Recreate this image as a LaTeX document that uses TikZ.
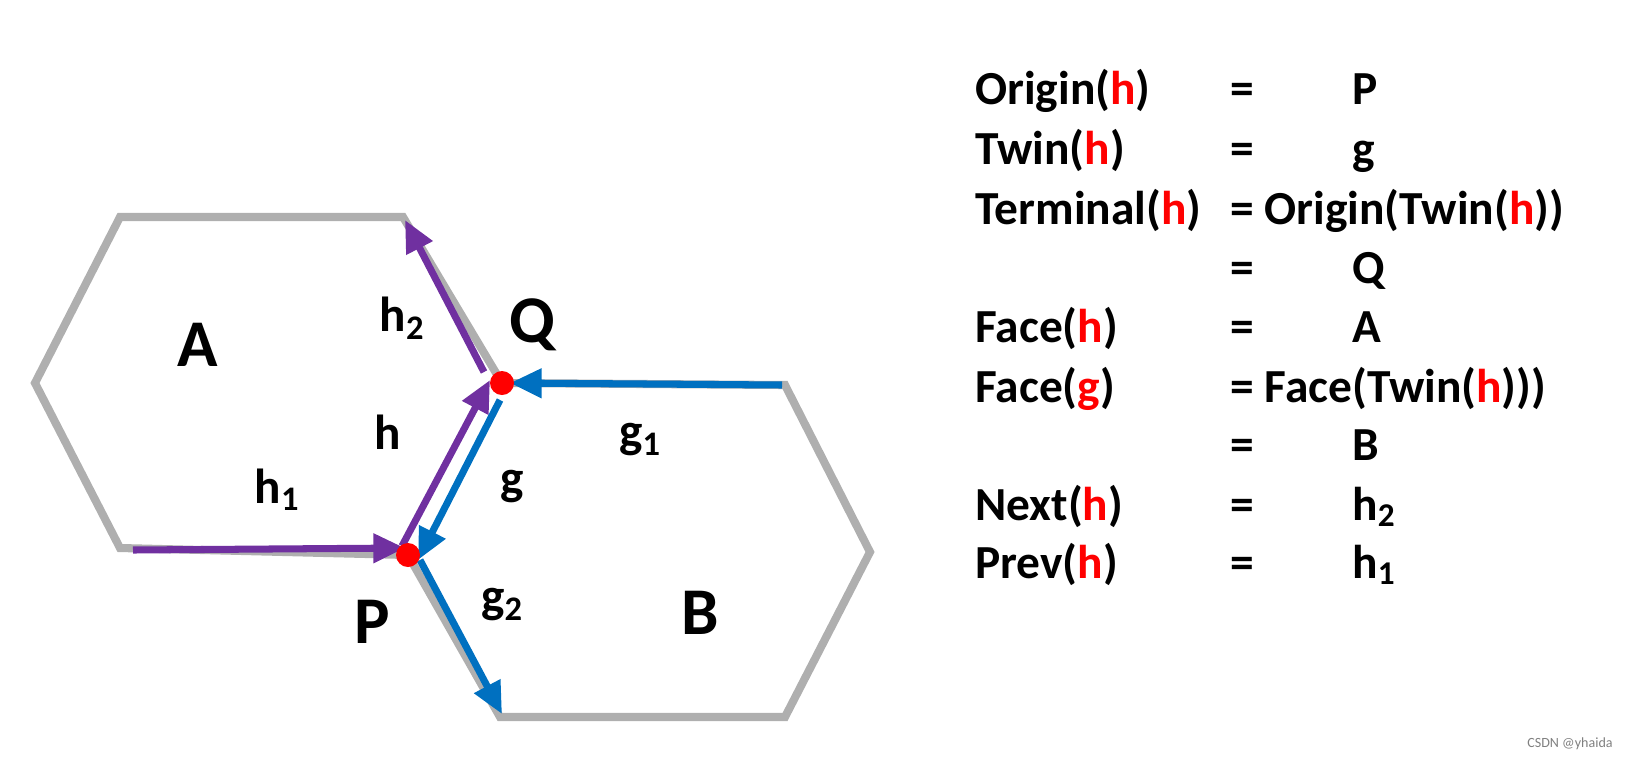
\documentclass[tikz,border=0pt]{standalone}
\usepackage{fontspec}
\setmainfont{Carlito}
\usetikzlibrary{arrows.meta}
\definecolor{pur}{RGB}{112,48,160}
\definecolor{blu}{RGB}{0,112,192}
\definecolor{gry}{RGB}{175,175,175}
\definecolor{rd}{RGB}{255,0,0}
\begin{document}
\begin{tikzpicture}[x=0.02cm,y=-0.02cm,
  edge/.style={draw=gry,line width=4.6pt,line join=miter},
  hp/.style={draw=pur,line width=4pt,-{Triangle[length=18pt,width=16pt]}},
  gb/.style={draw=blu,line width=4pt,-{Triangle[length=18pt,width=16pt]}},
  lab/.style={font=\bfseries\fontsize{28}{32}\selectfont},
  big/.style={font=\bfseries\fontsize{38}{44}\selectfont},
  txt/.style={font=\bfseries\fontsize{27}{32}\selectfont,anchor=base west,inner sep=0pt}]
\useasboundingbox (0,0) rectangle (1628,758);
\coordinate (P) at (408,555);
\coordinate (Q) at (502,383);
\draw[edge] (Q) -- (403,217) -- (120,217) -- (35,383) -- (120,548) -- (P);
\draw[edge] (Q) -- (785,385) -- (870,552) -- (785,717) -- (500,717) -- (P);
\coordinate (h1s) at (133,550); \coordinate (h1e) at (405,548);
\draw[hp] (h1s) -- (h1e);
\coordinate (hs) at (402,546); \coordinate (he) at (490,380);
\draw[hp] (hs) -- (he);
\coordinate (h2s) at (484,372); \coordinate (h2e) at (405,220);
\draw[hp] (h2s) -- (h2e);
\coordinate (g1s) at (782,385); \coordinate (g1e) at (510,383);
\draw[gb] (g1s) -- (g1e);
\coordinate (gs) at (500,400); \coordinate (ge) at (418,560);
\draw[gb] (gs) -- (ge);
\coordinate (g2s) at (420,560); \coordinate (g2e) at (502,714);
\draw[gb] (g2s) -- (g2e);
\fill[rd] (P) circle (12);
\fill[rd] (Q) circle (12);
\node[big] (A) at (198,345) {A};
\node[big] (B) at (700,613) {B};
\node[big] (Pl) at (372,622) {P};
\node[big] (Ql) at (532,325) {Q};
\node[lab] (lh2) at (402,318) {h\textsubscript{2}};
\node[lab] (lh) at (388,432) {h};
\node[lab] (lh1) at (277,490) {h\textsubscript{1}};
\node[lab] (lg) at (512,487) {g};
\node[lab] (lg1) at (640,440) {g\textsubscript{1}};
\node[lab] (lg2) at (502,605) {g\textsubscript{2}};
\def\R#1{\textcolor{rd}{#1}}
\node[txt] (t1) at (975,104) {Origin(\R{h})};
\node[txt] (t2) at (975,164) {Twin(\R{h})};
\node[txt] (t3) at (975,224) {Terminal(\R{h})};
\node[txt] (t5) at (975,342) {Face(\R{h})};
\node[txt] (t6) at (975,402) {Face(\R{g})};
\node[txt] (t8) at (975,520) {Next(\R{h})};
\node[txt] (t9) at (975,578) {Prev(\R{h})};
\foreach \y/\n in {104/e1,164/e2,283/e4,342/e5,460/e7,520/e8,578/e9}
  \node[txt] (\n) at (1230,\y) {=};
\node[txt] (e3) at (1230,224) {= Origin(Twin(\R{h}))};
\node[txt] (e6) at (1230,402) {= Face(Twin(\R{h})))};
\node[txt] (r1) at (1352,104) {P};
\node[txt] (r2) at (1352,164) {g};
\node[txt] (r4) at (1352,283) {Q};
\node[txt] (r5) at (1352,342) {A};
\node[txt] (r7) at (1352,460) {B};
\node[txt] (r8) at (1352,520) {h\textsubscript{2}};
\node[txt] (r9) at (1352,578) {h\textsubscript{1}};
\node[font=\fontsize{8}{9}\selectfont,text=gray] (cs) at (1570,744) {CSDN @yhaida};
\end{tikzpicture}
\end{document}
